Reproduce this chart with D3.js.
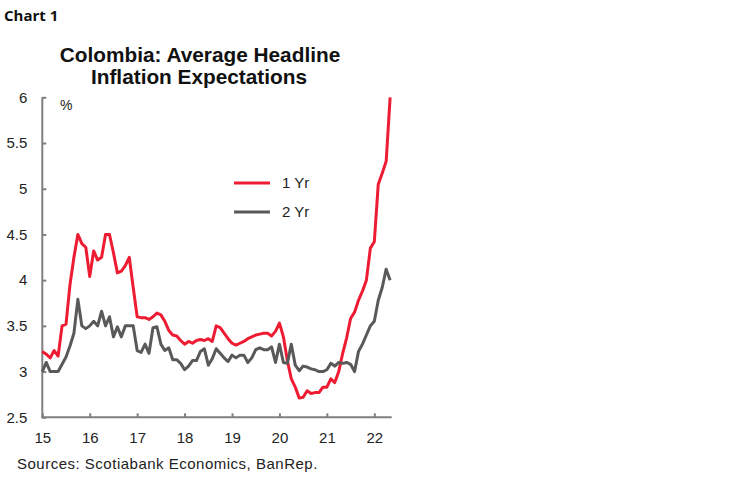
<!DOCTYPE html>
<html>
<head>
<meta charset="utf-8">
<script src="https://cdn.jsdelivr.net/npm/d3@7"></script>
<style>
  html, body { margin: 0; padding: 0; background: #ffffff; }
  svg { display: block; }
</style>
</head>
<body>
<svg id="chart" width="750" height="483"></svg>
<script>
// Monthly data, Jan 2015 .. May 2022
const oneYr = [
  3.22, 3.19, 3.15, 3.23, 3.17, 3.50, 3.52, 3.95, 4.25, 4.50, 4.40, 4.36,
  4.04, 4.32, 4.22, 4.25, 4.50, 4.50, 4.30, 4.08, 4.10, 4.16, 4.25, 3.92,
  3.60, 3.59, 3.59, 3.57, 3.60, 3.64, 3.62, 3.55, 3.45, 3.40, 3.39, 3.34,
  3.30, 3.33, 3.31, 3.34, 3.35, 3.34, 3.36, 3.33, 3.50, 3.48, 3.42, 3.36,
  3.31, 3.29, 3.31, 3.33, 3.36, 3.38, 3.40, 3.41, 3.42, 3.42, 3.39, 3.44,
  3.53, 3.38, 3.12, 2.92, 2.83, 2.71, 2.72, 2.79, 2.76, 2.77, 2.77, 2.83,
  2.83, 2.92, 2.88, 3.00, 3.20, 3.37, 3.58, 3.65, 3.78, 3.88, 4.00, 4.35,
  4.42, 5.05, 5.17, 5.30, 6.00
];
const twoYr = [
  3.00, 3.10, 3.00, 3.00, 3.00, 3.08, 3.16, 3.28, 3.42, 3.79, 3.50, 3.47,
  3.50, 3.55, 3.50, 3.66, 3.50, 3.60, 3.38, 3.49, 3.38, 3.50, 3.50, 3.50,
  3.23, 3.21, 3.30, 3.20, 3.48, 3.49, 3.30, 3.23, 3.26, 3.13, 3.13, 3.09,
  3.02, 3.06, 3.12, 3.12, 3.22, 3.25, 3.07, 3.14, 3.25, 3.20, 3.15, 3.11,
  3.18, 3.15, 3.18, 3.18, 3.10, 3.15, 3.24, 3.26, 3.24, 3.24, 3.27, 3.10,
  3.30, 3.10, 3.09, 3.30, 3.07, 3.01, 3.06, 3.05, 3.03, 3.02, 3.00, 3.00,
  3.02, 3.09, 3.06, 3.10, 3.09, 3.10, 3.08, 3.00, 3.22, 3.30, 3.40, 3.50,
  3.55, 3.78, 3.92, 4.12, 4.00
];
const yearLabels = ["15", "16", "17", "18", "19", "20", "21", "22"];
const yTicks = [2.5, 3, 3.5, 4, 4.5, 5, 5.5, 6];
const seriesNames = ["1 Yr", "2 Yr"];
const seriesColors = ["#ee1c33", "#595959"];

const svg = d3.select("#chart");
const font = "'Liberation Sans', Arial, sans-serif";

const x = d3.scaleLinear().domain([0, 88.4]).range([42.3, 391.7]);
const y = d3.scaleLinear().domain([2.5, 6]).range([417.3, 97.3]);

// "Chart 1"
svg.append("text").attr("x", 4).attr("y", 21)
  .attr("font-family", "'Open Sans', 'Noto Sans', sans-serif")
  .attr("font-weight", "bold").attr("font-size", 15).attr("fill", "#111")
  .text("Chart 1");

// Title
const title = svg.append("text").attr("font-family", font)
  .attr("font-weight", "bold").attr("font-size", 20.8).attr("fill", "#111")
  .attr("text-anchor", "middle");
title.append("tspan").attr("x", 200).attr("y", 62).text("Colombia: Average Headline");
title.append("tspan").attr("x", 199).attr("y", 84).text("Inflation Expectations");

// Y axis
const yAxis = svg.append("g").attr("transform", `translate(${x.range()[0]},0)`)
  .call(d3.axisRight(y).tickValues(yTicks).tickSize(4).tickFormat(d3.format("")));
yAxis.select(".domain").attr("stroke", "#7f7f7f").attr("stroke-width", 2)
  .attr("d", `M0,${y.range()[0]}V${y.range()[1]}`);
yAxis.selectAll(".tick line").attr("stroke", "#7f7f7f").attr("stroke-width", 2);
yAxis.selectAll(".tick text").attr("x", -15).attr("text-anchor", "end")
  .attr("font-family", font).attr("font-size", 15).attr("fill", "#222");

// X axis
const xAxis = svg.append("g").attr("transform", `translate(0,${y.range()[0]})`)
  .call(d3.axisTop(x).tickValues(d3.range(0, 85, 12)).tickSize(4)
    .tickFormat((d, i) => yearLabels[i]));
xAxis.select(".domain").attr("stroke", "#7f7f7f").attr("stroke-width", 2)
  .attr("d", `M${x.range()[0] - 1},0H${x.range()[1]}`);
xAxis.selectAll(".tick line").attr("stroke", "#7f7f7f").attr("stroke-width", 2);
xAxis.selectAll(".tick text").attr("y", 26).attr("dy", 0)
  .attr("font-family", font).attr("font-size", 15).attr("fill", "#222");

// "%" label
svg.append("text").attr("x", 60).attr("y", 110).attr("font-family", font)
  .attr("font-size", 14).attr("fill", "#222").text("%");

// Lines
const line = d3.line().x((d, i) => x(i)).y(d => y(d));
[oneYr, twoYr].forEach((data, k) => {
  svg.append("path").datum(data).attr("d", line)
    .attr("fill", "none").attr("stroke", seriesColors[k])
    .attr("stroke-width", 3).attr("stroke-linejoin", "round");
});

// Legend
seriesNames.forEach((name, k) => {
  const ly = 183 + k * 29;
  svg.append("line").attr("x1", 234).attr("x2", 270).attr("y1", ly).attr("y2", ly)
    .attr("stroke", seriesColors[k]).attr("stroke-width", 3);
  svg.append("text").attr("x", 282).attr("y", ly + 5).attr("font-family", font)
    .attr("font-size", 15).attr("fill", "#222").text(name);
});

// Source
svg.append("text").attr("x", 17).attr("y", 469).attr("font-family", font)
  .attr("font-size", 15).attr("letter-spacing", 0.5).attr("fill", "#222")
  .text("Sources: Scotiabank Economics, BanRep.");
</script>
</body>
</html>
